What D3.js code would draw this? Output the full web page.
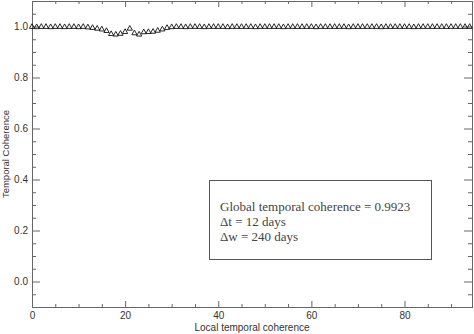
<!DOCTYPE html>
<html>
<head>
<meta charset="utf-8">
<script src="https://cdn.jsdelivr.net/npm/d3@7"></script>
<style>
  body { margin: 0; background: #fff; }
  svg { display: block; }
  .tick text { font-family: "Liberation Sans", Arial, sans-serif; font-size: 10px; fill: #333; }
</style>
</head>
<body>
<div id="chart"></div>
<script>
// local temporal coherence, one value per index (0..94)
const coherence = [
  1.000, 0.999, 1.000, 1.000, 0.999, 1.000, 1.000, 0.999, 1.000, 1.000,
  0.999, 1.000, 0.998, 0.996, 0.993, 0.990, 0.984, 0.972, 0.970, 0.973,
  0.980, 0.993, 0.975, 0.970, 0.979, 0.980, 0.981, 0.985, 0.990, 0.996,
  0.999, 1.000, 1.000, 0.999, 1.000, 1.000, 1.000, 0.999, 1.000, 1.000,
  1.000, 1.000, 0.999, 1.000, 1.000, 1.000, 1.000, 1.000, 0.999, 1.000,
  1.000, 1.000, 1.000, 1.000, 0.999, 1.000, 1.000, 1.000, 1.000, 1.000,
  1.000, 0.999, 1.000, 1.000, 1.000, 1.000, 1.000, 1.000, 0.999, 1.000,
  1.000, 1.000, 1.000, 1.000, 1.000, 0.999, 1.000, 1.000, 1.000, 1.000,
  1.000, 1.000, 0.999, 1.000, 1.000, 1.000, 1.000, 1.000, 1.000, 1.000,
  1.000, 1.000, 1.000, 1.000, 1.000
];

const xMajor = [0, 20, 40, 60, 80];
const yMajor = [0.0, 0.2, 0.4, 0.6, 0.8, 1.0];
const noteLines = [
  "Global temporal coherence = 0.9923",
  "\u0394t = 12 days",
  "\u0394w = 240 days"
];

const W = 474, H = 334;
const margin = { top: 1, right: 2, bottom: 27, left: 32 };
const width = W - margin.left - margin.right,
  height = H - margin.top - margin.bottom;

const svg = d3.select("#chart").append("svg")
  .attr("width", W).attr("height", H);
const g = svg.append("g")
  .attr("transform", `translate(${margin.left},${margin.top})`);

const x = d3.scaleLinear().domain([0, 94.5]).range([0, width]);
const y = d3.scaleLinear().domain([-0.1, 1.1]).range([height, 0]);

const xMinor = d3.range(0, 95, 5).filter((v) => v % 20 !== 0);
const yMinor = d3.range(-0.1, 1.1, 0.05).filter((v) => Math.abs(Math.round(v * 5) - v * 5) > 1e-6);

const axisColor = "#666";

// bottom + top x axes (ticks point inward)
function xAxes(sel) {
  sel.append("g").attr("transform", `translate(0,${height})`)
    .call(d3.axisBottom(x).tickValues(xMajor).tickSize(-6).tickPadding(5).tickFormat(d3.format("d")));
  sel.append("g").attr("transform", `translate(0,${height})`)
    .call(d3.axisBottom(x).tickValues(xMinor).tickSize(-3).tickFormat(""));
  sel.append("g")
    .call(d3.axisTop(x).tickValues(xMajor).tickSize(-6).tickFormat(""));
  sel.append("g")
    .call(d3.axisTop(x).tickValues(xMinor).tickSize(-3).tickFormat(""));
}
function yAxes(sel) {
  sel.append("g")
    .call(d3.axisLeft(y).tickValues(yMajor).tickSize(-8).tickPadding(4).tickFormat(d3.format(".1f")));
  sel.append("g")
    .call(d3.axisLeft(y).tickValues(yMinor).tickSize(-4).tickFormat(""));
  sel.append("g").attr("transform", `translate(${width},0)`)
    .call(d3.axisRight(y).tickValues(yMajor).tickSize(-8).tickFormat(""));
  sel.append("g").attr("transform", `translate(${width},0)`)
    .call(d3.axisRight(y).tickValues(yMinor).tickSize(-4).tickFormat(""));
}
const axes = g.append("g");
xAxes(axes);
yAxes(axes);
axes.selectAll(".domain").attr("stroke", axisColor);
axes.selectAll(".tick line").attr("stroke", axisColor);

// triangles
const tri = "M0,-2.8L2.6,1.9L-2.6,1.9Z";
g.selectAll("path.pt")
  .data(coherence)
  .join("path")
  .attr("class", "pt")
  .attr("d", tri)
  .attr("transform", (d, i) => `translate(${x(i)},${y(d)})`)
  .attr("fill", "none")
  .attr("stroke", "#111")
  .attr("stroke-width", 0.9);

// annotation box
const box = svg.append("g");
box.append("rect")
  .attr("x", 209.5).attr("y", 180.5)
  .attr("width", 222).attr("height", 79)
  .attr("fill", "#fff")
  .attr("stroke", "#555");
box.selectAll("text")
  .data(noteLines)
  .join("text")
  .attr("x", 220)
  .attr("y", (d, i) => 211 + i * 15)
  .attr("font-family", "'Liberation Serif', 'Times New Roman', serif")
  .attr("font-size", 13)
  .attr("fill", "#444")
  .text((d) => d);

// axis titles
svg.append("text")
  .attr("x", margin.left + width / 2)
  .attr("y", 331)
  .attr("text-anchor", "middle")
  .attr("font-family", "'Liberation Sans', Arial, sans-serif")
  .attr("font-size", 10)
  .attr("fill", "#333")
  .text("Local temporal coherence");

svg.append("text")
  .attr("transform", `translate(9,${margin.top + height / 2}) rotate(-90)`)
  .attr("text-anchor", "middle")
  .attr("font-family", "'Liberation Sans', Arial, sans-serif")
  .attr("font-size", 9.5)
  .attr("fill", "#333")
  .text("Temporal Coherence");
</script>
</body>
</html>
